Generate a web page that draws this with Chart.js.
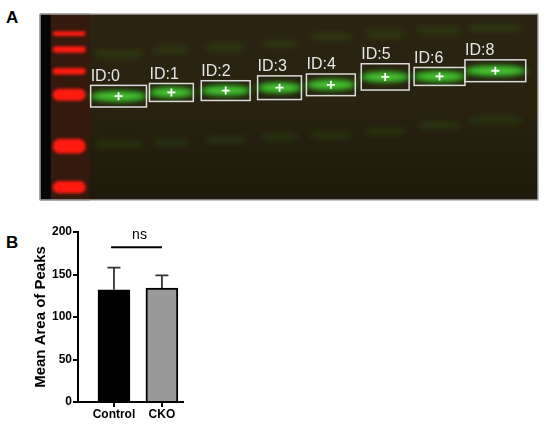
<!DOCTYPE html>
<html>
<head>
<meta charset="utf-8">
<script src="https://cdn.jsdelivr.net/npm/chart.js@4.4.1/dist/chart.umd.min.js"></script>
<style>
  body { margin: 0; background: #fff; width: 550px; height: 426px; position: relative; overflow: hidden; font-family: Arial, "Liberation Sans", sans-serif; }
  .tag { position: absolute; font-weight: bold; font-size: 17px; color: #000; }
  #blotWrap { position: absolute; left: 34px; top: 8px; width: 510px; height: 198px; }
  #barWrap { position: absolute; left: 30px; top: 215px; width: 170px; height: 211px; }
</style>
</head>
<body>
<div class="tag" style="left:6px;top:8px;">A</div>
<div class="tag" style="left:6px;top:233px;">B</div>
<div id="blotWrap"><canvas id="blotChart"></canvas></div>
<div id="barWrap"><canvas id="barChart"></canvas></div>

<script>
// ---- panel A: blot, positions in % of blot width / height ----
const ladderY = [10.6, 19.2, 30.8, 43.4, 71, 93];
const ladderThick = [2.5, 3.5, 3.5, 6.5, 8, 6.5];

const bandIds = ['ID:0', 'ID:1', 'ID:2', 'ID:3', 'ID:4', 'ID:5', 'ID:6', 'ID:8'];
const boxLeft = [10.2, 22.0, 32.4, 43.7, 53.5, 64.5, 75.1, 85.3];
const boxRight = [21.4, 30.8, 42.2, 52.5, 63.3, 74.1, 85.3, 97.5];
const boxTop = [38.4, 37.4, 35.9, 33.3, 32.3, 26.8, 28.8, 24.7];
const boxBottom = [50.0, 47.0, 46.5, 46.0, 43.9, 40.9, 38.4, 36.4];
const upperBandY = [21.5, 19.5, 18, 16, 12.5, 11, 9, 7.5];
const lowerBandY = [70, 69, 67.5, 66, 65, 63, 60, 57];

// ---- panel B: bar chart ----
const categories = ['Control', 'CKO'];
const means = [132, 134];
const errTop = [158, 149];
const yTicks = [0, 50, 100, 150, 200];
const sigFrom = 0.94, sigTo = 2.0, sigY = 182, sigLabel = 'ns';

const blotPaint = {
  id: 'blotPaint',
  beforeDatasetsDraw(chart) {
    const { ctx, chartArea: a, scales: { x, y } } = chart;
    ctx.save();
    const bg = ctx.createLinearGradient(0, a.top, 0, a.bottom);
    bg.addColorStop(0, '#2c2412');
    bg.addColorStop(0.5, '#28220f');
    bg.addColorStop(1, '#1f190c');
    ctx.fillStyle = bg;
    ctx.fillRect(a.left, a.top, a.width, a.height);
    // ladder lane
    ctx.fillStyle = '#34190d';
    ctx.fillRect(x.getPixelForValue(2.2), a.top, x.getPixelForValue(10) - x.getPixelForValue(2.2), a.height);
    ctx.fillStyle = '#050505';
    ctx.fillRect(a.left, a.top, x.getPixelForValue(2.2) - a.left, a.height);

    ctx.filter = 'blur(1.5px)';
    ctx.fillStyle = '#ff1a10';
    ladderY.forEach((v, i) => {
      const h = y.getPixelForValue(v + ladderThick[i] / 2) - y.getPixelForValue(v - ladderThick[i] / 2);
      ctx.beginPath();
      ctx.roundRect(x.getPixelForValue(2.6), y.getPixelForValue(v) - h / 2,
        x.getPixelForValue(9.2) - x.getPixelForValue(2.6), h, h / 2);
      ctx.fill();
    });

    // faint extra bands
    ctx.filter = 'blur(3px)';
    ctx.fillStyle = 'rgba(60,140,30,0.22)';
    bandIds.forEach((_, i) => {
      [upperBandY[i], lowerBandY[i]].forEach(v => {
        const l = x.getPixelForValue(boxLeft[i] + 1), r = x.getPixelForValue(boxRight[i] - 1);
        ctx.fillRect(l, y.getPixelForValue(v) - 3, r - l, 6);
      });
    });

    // main bands
    ctx.filter = 'blur(2.5px)';
    bandIds.forEach((_, i) => {
      const l = x.getPixelForValue(boxLeft[i]), r = x.getPixelForValue(boxRight[i]);
      const cy = y.getPixelForValue((boxTop[i] + boxBottom[i]) / 2);
      ctx.fillStyle = 'rgba(40,150,30,0.75)';
      ctx.beginPath();
      ctx.ellipse((l + r) / 2, cy, (r - l) / 2 + 2, 6.5, 0, 0, Math.PI * 2);
      ctx.fill();
      ctx.fillStyle = 'rgba(80,215,55,0.9)';
      ctx.beginPath();
      ctx.ellipse((l + r) / 2, cy, (r - l) / 2 - 3, 3.2, 0, 0, Math.PI * 2);
      ctx.fill();
    });
    ctx.restore();
  },
  afterDatasetsDraw(chart) {
    const { ctx, chartArea: a, scales: { x, y } } = chart;
    ctx.save();
    ctx.strokeStyle = '#dcdcdc';
    ctx.lineWidth = 1.5;
    ctx.fillStyle = '#e6e6e6';
    ctx.font = '16px Arial, "Liberation Sans", sans-serif';
    ctx.textBaseline = 'bottom';
    bandIds.forEach((id, i) => {
      const l = x.getPixelForValue(boxLeft[i]), r = x.getPixelForValue(boxRight[i]);
      const t = y.getPixelForValue(boxTop[i]), b = y.getPixelForValue(boxBottom[i]);
      ctx.strokeRect(l, t, r - l, b - t);
      ctx.fillText(id, l, t - 1);
    });
    ctx.strokeStyle = '#9a9a9a';
    ctx.lineWidth = 1;
    ctx.strokeRect(a.left + 0.5, a.top + 0.5, a.width - 1, a.height - 1);
    ctx.restore();
  }
};

new Chart(document.getElementById('blotChart'), {
  type: 'scatter',
  data: {
    datasets: [{
      data: bandIds.map((_, i) => ({ x: (boxLeft[i] + boxRight[i]) / 2, y: (boxTop[i] + boxBottom[i]) / 2 })),
      pointStyle: 'cross',
      radius: 4,
      borderColor: '#ffffff',
      borderWidth: 1.8
    }]
  },
  options: {
    responsive: true,
    maintainAspectRatio: false,
    animation: false,
    layout: { padding: 0 },
    plugins: { legend: { display: false }, tooltip: { enabled: false } },
    scales: {
      x: { type: 'linear', min: 0, max: 100, display: false },
      y: { type: 'linear', min: 0, max: 100, reverse: true, display: false }
    }
  },
  plugins: [blotPaint]
});

const barExtras = {
  id: 'barExtras',
  afterDatasetsDraw(chart) {
    const { ctx, scales: { x, y } } = chart;
    ctx.save();
    ctx.strokeStyle = '#333';
    ctx.lineWidth = 1.8;
    categories.forEach((c, i) => {
      const px = x.getPixelForValue(i + 1);
      const y0 = y.getPixelForValue(means[i]), y1 = y.getPixelForValue(errTop[i]);
      ctx.beginPath();
      ctx.moveTo(px, y0);
      ctx.lineTo(px, y1);
      ctx.moveTo(px - 6.5, y1);
      ctx.lineTo(px + 6.5, y1);
      ctx.stroke();
    });
    const sy = y.getPixelForValue(sigY);
    ctx.strokeStyle = '#000';
    ctx.lineWidth = 2;
    ctx.beginPath();
    ctx.moveTo(x.getPixelForValue(sigFrom), sy);
    ctx.lineTo(x.getPixelForValue(sigTo), sy);
    ctx.stroke();
    ctx.fillStyle = '#000';
    ctx.font = '14px Arial, "Liberation Sans", sans-serif';
    ctx.textAlign = 'center';
    ctx.textBaseline = 'bottom';
    ctx.fillText(sigLabel, (x.getPixelForValue(sigFrom) + x.getPixelForValue(sigTo)) / 2 + 3, sy - 5);
    ctx.restore();
  }
};

new Chart(document.getElementById('barChart'), {
  type: 'bar',
  data: {
    datasets: [{
      data: categories.map((c, i) => ({ x: i + 1, y: means[i] })),
      backgroundColor: ['#000000', '#999999'],
      borderColor: '#000000',
      borderWidth: 2,
      barThickness: 32,
      borderSkipped: 'bottom'
    }]
  },
  options: {
    responsive: true,
    maintainAspectRatio: false,
    animation: false,
    layout: { padding: { top: 17, right: 17, left: 0, bottom: 0 } },
    plugins: { legend: { display: false }, tooltip: { enabled: false } },
    scales: {
      x: {
        type: 'linear',
        offset: false,
        min: 0.25,
        max: 2.44,
        afterBuildTicks: s => { s.ticks = categories.map((c, i) => ({ value: i + 1 })); },
        afterFit: s => { s.height = 24; },
        grid: { offset: false, drawOnChartArea: false, drawTicks: true, tickLength: 5, color: '#000', lineWidth: 2 },
        border: { display: true, color: '#000', width: 2 },
        ticks: {
          callback: v => categories[v - 1],
          color: '#000',
          padding: 0,
          maxRotation: 0,
          autoSkip: false,
          font: { family: 'Arial, "Liberation Sans", sans-serif', size: 12, weight: 'bold' }
        }
      },
      y: {
        min: 0,
        max: 200,
        afterBuildTicks: s => { s.ticks = yTicks.map(v => ({ value: v })); },
        afterFit: s => { s.width = 48; },
        grid: { drawOnChartArea: false, drawTicks: true, tickLength: 5, color: '#000', lineWidth: 2 },
        border: { display: true, color: '#000', width: 2 },
        ticks: {
          color: '#000',
          padding: 1,
          font: { family: 'Arial, "Liberation Sans", sans-serif', size: 12, weight: 'bold' }
        },
        title: {
          display: true,
          text: 'Mean Area of Peaks',
          color: '#000',
          padding: { top: 2, bottom: 0 },
          font: { family: 'Arial, "Liberation Sans", sans-serif', size: 15, weight: 'bold' }
        }
      }
    }
  },
  plugins: [barExtras]
});
</script>
</body>
</html>
